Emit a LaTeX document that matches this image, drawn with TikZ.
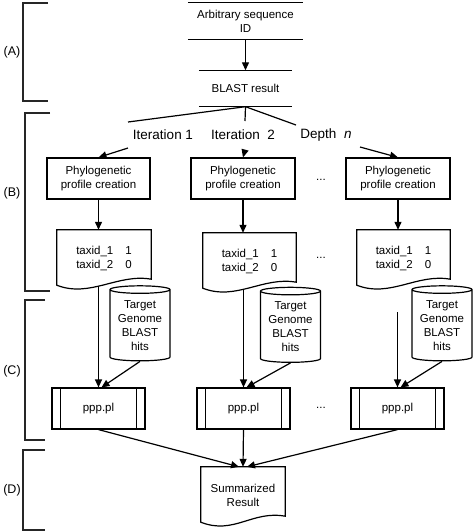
\documentclass[tikz,border=0pt]{standalone}
\usepackage{fontspec}
\setmainfont{Liberation Sans}
\usetikzlibrary{shapes.geometric,arrows.meta,positioning,calc}

\begin{document}
\begin{tikzpicture}[x=1pt, y=-1pt,
    every node/.style={font=\fontsize{11.5}{14}\selectfont},
    line/.style={line width=1.2pt},
    arr/.style={line width=1.2pt, -{Triangle[length=8pt,width=7pt]}},
    bracket/.style={line width=1.3pt, black!85},
    stepname/.style={font=\fontsize{12.5}{14}\selectfont},
    iterlabel/.style={font=\fontsize{13.5}{16}\selectfont},
    store/.style={minimum width=#1, minimum height=36, inner sep=0pt, align=center},
    procbox/.style={draw, line width=1.2pt, minimum width=#1, minimum height=41,
                    inner sep=0pt, align=center},
    pppbox/.style={procbox=93},
    docnode/.style={minimum width=#1, minimum height=56, inner sep=0pt, align=center},
    cyl/.style={cylinder, shape border rotate=90, draw, line width=1.2pt, aspect=0.17,
                minimum width=60, minimum height=75, inner sep=0pt, align=center},
]
\useasboundingbox (0,0) rectangle (474,531);

% (A) query and BLAST
\node[store=115] (seqid) at (245.5,21) {Arbitrary sequence\\ID};
\node[store=93] (blast) at (245.5,88.5) {BLAST result};
\foreach \s in {seqid,blast}
  \draw[line] (\s.north west) -- (\s.north east) (\s.south west) -- (\s.south east);
\draw[arr] (seqid) -- (blast);

% iterations
\node[iterlabel] (it1) at (163,135) {Iteration 1};
\node[iterlabel] (it2) at (243,135) {Iteration\ \ 2};
\node[iterlabel] (depthn) at (326,135) {Depth\ \ \textit{n}};
\coordinate (b1) at (128,122);
\coordinate (b2) at (245,121);
\coordinate (b3) at (296,125);
\draw[line] (blast.south) -- (b1);
\draw[line] (blast.south) -- (b2);
\draw[line] (blast.south) -- (b3);

% (B) profiles
\node[procbox=103] (prof1) at (98.5,178.5) {Phylogenetic\\profile creation};
\node[procbox=104] (prof2) at (243,178.5) {Phylogenetic\\profile creation};
\node[procbox=104] (prof3) at (398,178.5) {Phylogenetic\\profile creation};
\node (dots1) at (321,180) {...};
\coordinate (a1) at (128,148);
\coordinate (a2) at (245,150);
\coordinate (a3) at (360,147);
\draw[arr] (a1) -- (prof1.north);
\draw[arr] (a2) -- (prof2.north);
\draw[arr] (a3) -- (prof3.north);

\node[docnode=94] (doc1) at (104,258) {taxid\_1\hspace{12pt}1\\taxid\_2\hspace{12pt}0};
\node[docnode=93] (doc2) at (249.5,261) {taxid\_1\hspace{12pt}1\\taxid\_2\hspace{12pt}0};
\node[docnode=93] (doc3) at (403.5,258) {taxid\_1\hspace{12pt}1\\taxid\_2\hspace{12pt}0};
\node (dots2) at (321,258) {...};
\draw[arr] (prof1.south) -- (prof1.south |- doc1.north);
\draw[arr] (prof2.south) -- (prof2.south |- doc2.north);
\draw[arr] (prof3.south) -- (prof3.south |- doc3.north);

% (C) ppp.pl runs
\node[cyl] (cyl1) at (140,325.5) {Target\\Genome\\BLAST\\hits};
\node[cyl] (cyl2) at (290.5,327) {Target\\Genome\\BLAST\\hits};
\node[cyl] (cyl3) at (442,325.5) {Target\\Genome\\BLAST\\hits};

\node[pppbox] (ppp1) at (98.5,408.5) {ppp.pl};
\node[pppbox] (ppp2) at (243.5,408.5) {ppp.pl};
\node[pppbox] (ppp3) at (397.5,408.5) {ppp.pl};
\node (dots3) at (321,408) {...};
\foreach \p in {ppp1,ppp2,ppp3}
  \draw[line] ([xshift=9]\p.north west) -- ([xshift=9]\p.south west)
              ([xshift=-9]\p.north east) -- ([xshift=-9]\p.south east);

\coordinate (gap3) at (397.5,312);
\draw[arr] (ppp1.north |- doc1.south) -- (ppp1.north);
\draw[arr] (ppp2.north |- doc2.south) -- (ppp2.north);
\draw[arr] (gap3) -- (ppp3.north);
\draw[arr] (cyl1.south) -- ([xshift=3]ppp1.north);
\draw[arr] (cyl2.south) -- ([xshift=3]ppp2.north);
\draw[arr] (cyl3.south) -- ([xshift=3]ppp3.north);

% (D) summary
\node[docnode=84] (sumres) at (243,495) {Summarized\\Result};
\draw[arr] (ppp1.south) -- ([xshift=-4]sumres.north);
\draw[arr] (ppp2.south) -- (sumres.north);
\draw[arr] (ppp3.south) -- ([xshift=4]sumres.north);

\foreach \d in {doc1,doc2,doc3,sumres}
  \draw[line] (\d.north west) -- (\d.north east) -- ([yshift=7]\d.south east)
    .. controls +(-33,-6) and +(33,13) .. ([yshift=1]\d.south west) -- cycle;

% brackets
\draw[bracket] (48,3) -- (23,3) -- (23,101) -- (48,101);
\draw[bracket] (50,113) -- (25,113) -- (25,291) -- (50,291);
\draw[bracket] (45,300) -- (25,300) -- (25,440) -- (45,440);
\draw[bracket] (45,450) -- (23,450) -- (23,530) -- (45,530);
\node[stepname] (stepA) at (12,52) {(A)};
\node[stepname] (stepB) at (12,193) {(B)};
\node[stepname] (stepC) at (12,371) {(C)};
\node[stepname] (stepD) at (12,490) {(D)};
\end{tikzpicture}
\end{document}
